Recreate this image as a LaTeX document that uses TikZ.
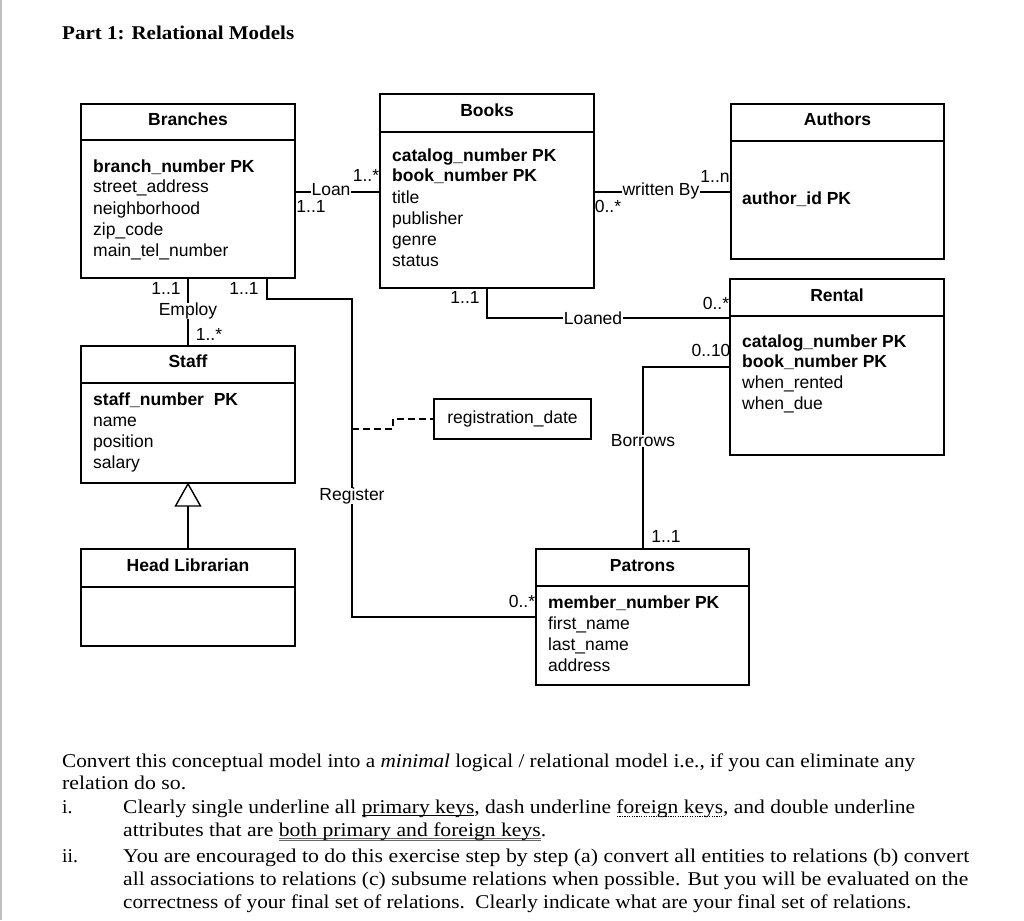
\documentclass[tikz,border=0pt]{standalone}
\usepackage{fontspec}
\setmainfont{Liberation Serif}
\newfontfamily\arialf{Liberation Sans}
\usepackage{graphicx}
\newcommand\fitline[2]{\resizebox{#1}{\height}{#2}}
\newcommand\sul[1]{\setbox0\hbox{#1}\rlap{\raisebox{-3pt}{\rule{\wd0}{0.8pt}}}\box0}
\newcommand\dul[1]{\setbox0\hbox{#1}\rlap{\raisebox{-3.5pt}{\hbox to \wd0{\leaders\hbox to 2.2pt{\hss\rule{1.1pt}{1pt}\hss}\hfill}}}\box0}
\newcommand\wul[1]{\setbox0\hbox{#1}\rlap{\raisebox{-2.6pt}{\color{black!60}\rule{\wd0}{0.6pt}}}\rlap{\raisebox{-4.6pt}{\color{black!60}\rule{\wd0}{0.6pt}}}\box0}
\begin{document}
\begin{tikzpicture}[x=1pt,y=-1pt,
  box/.style={draw, line width=1.7pt, inner sep=0pt},
  divl/.style={line width=1.7pt},
  conn/.style={line width=1.4pt},
  lbl/.style={font=\arialf\fontsize{17.5}{21}\selectfont, inner sep=0pt},
  hdr/.style={font=\arialf\bfseries\fontsize{17.5}{21}\selectfont, anchor=base, inner sep=0pt},
  attr/.style={lbl, anchor=base west},
  attrb/.style={attr, font=\arialf\bfseries\fontsize{17.5}{21}\selectfont},
  onl/.style={lbl, fill=white, inner xsep=1pt, inner ysep=0pt},
  tx/.style={font=\fontsize{19.5}{23}\selectfont, anchor=base west, inner sep=0pt}]
\useasboundingbox (0,0) rectangle (1024,920);
\fill[white] (0,0) rectangle (1024,920);
\fill[black!25] (0,0) rectangle (2,920);

% title
\node[tx, font=\bfseries\fontsize{19.5}{23}\selectfont] (title) at (62,40) {\fitline{232pt}{Part 1: Relational Models}};

% ---- entities ----
% Branches
\node[box, minimum width=214pt, minimum height=174pt] (branches) at (188,191) {};
\draw[divl] (81,140) -- (295,140);
\node[hdr] (branchesT) at (188,126) {Branches};
\node[attrb] (br1) at (93,172) {branch\_number PK};
\foreach \t [count=\i] in {street\_address, neighborhood, zip\_code, main\_tel\_number}
  \node[attr] (br\i x) at (93,172+21*\i) {\t};

% Books
\node[box, minimum width=214pt, minimum height=194pt] (books) at (487,191) {};
\draw[divl] (380,132) -- (594,132);
\node[hdr] (booksT) at (487,117) {Books};
\node[attrb] (bk1) at (392,161) {catalog\_number PK};
\node[attrb] (bk2) at (392,182) {book\_number PK};
\foreach \t [count=\i] in {title, publisher, genre, status}
  \node[attr] (bk\i x) at (392,182+21*\i) {\t};

% Authors
\node[box, minimum width=213pt, minimum height=155pt] (authors) at (837.5,181.5) {};
\draw[divl] (731,141) -- (944,141);
\node[hdr] (authorsT) at (837.5,126) {Authors};
\node[attrb] (au1) at (742,204) {author\_id PK};

% Rental
\node[box, minimum width=214pt, minimum height=176pt] (rental) at (837,367) {};
\draw[divl] (730,316) -- (944,316);
\node[hdr] (rentalT) at (837,301) {Rental};
\node[attrb] (re1) at (742,347) {catalog\_number PK};
\node[attrb] (re2) at (742,367) {book\_number PK};
\node[attr] (re3) at (742,388) {when\_rented};
\node[attr] (re4) at (742,409) {when\_due};

% Staff
\node[box, minimum width=214pt, minimum height=137pt] (staff) at (188,414.5) {};
\draw[divl] (81,383) -- (295,383);
\node[hdr] (staffT) at (188,367) {Staff};
\node[attrb] (st1) at (93,405) {staff\_number\ \ PK};
\foreach \t [count=\i] in {name, position, salary}
  \node[attr] (st\i x) at (93,405+21*\i) {\t};

% Head Librarian
\node[box, minimum width=214pt, minimum height=97pt] (head) at (188,597.5) {};
\draw[divl] (81,587) -- (295,587);
\node[hdr] (headT) at (188,571) {Head Librarian};

% Patrons
\node[box, minimum width=213pt, minimum height=136pt] (patrons) at (642.5,617) {};
\draw[divl] (536,586) -- (749,586);
\node[hdr] (patronsT) at (642.5,571) {Patrons};
\node[attrb] (pa1) at (548,608) {member\_number PK};
\node[attr] (pa2) at (548,629) {first\_name};
\node[attr] (pa3) at (548,650) {last\_name};
\node[attr] (pa4) at (548,671) {address};

% registration_date
\node[box, lbl, draw, line width=1.7pt, minimum width=157pt, minimum height=40pt] (regdate) at (512.5,419) {registration\_date};

% ---- connectors ----
% Loan
\draw[conn] (branches.east |- 0,192) -- (books.west |- 0,192);
\node[onl] (loanL) at (331,190) {Loan};
\node[lbl] (loanM1) at (366,175) {1..*};
\node[lbl] (loanM2) at (311,206) {1..1};

% written By
\draw[conn] (books.east |- 0,192) -- (authors.west |- 0,192);
\node[onl] (wbL) at (661,191) {written By};
\node[lbl] (wbM1) at (608,206) {0..*};
\node[lbl] (wbM2) at (715,176) {1..n};

% Employ
\draw[conn] (branches.south -| 188,0) -- (staff.north);
\node[onl] (empL) at (188,311) {Employ};
\node[lbl] (empM1) at (166,288) {1..1};
\node[lbl] (empM2) at (209,334) {1..*};

% Register
\draw[conn] (branches.south -| 267,0) -- (267,299) -- (352,299) -- (352,617) -- (patrons.west |- 0,617);
\node[onl] (regL) at (352,496) {Register};
\node[lbl] (regM1) at (244,288) {1..1};
\node[lbl] (regM2) at (522,601) {0..*};
\coordinate (regj) at (352,429);
\draw[conn, dash pattern=on 7pt off 4pt] (regj) -- (393,429) -- (393,419) -- (regdate.west |- 0,419);

% Loaned
\draw[conn] (books.south -| 487,0) -- (487,318) -- (rental.west |- 0,318);
\node[onl] (lnL) at (593,318) {Loaned};
\node[lbl] (lnM1) at (465,297) {1..1};
\node[lbl] (lnM2) at (716,303) {0..*};

% Borrows
\draw[conn] (rental.west |- 0,367) -- (643,367) -- (patrons.north -| 643,0);
\node[onl] (boL) at (643,441) {Borrows};
\node[lbl] (boM1) at (711,350) {0..10};
\node[lbl] (boM2) at (666,536) {1..1};

% Inheritance
\coordinate (tribase) at (188,506);
\draw[conn] (head.north) -- (tribase);
\draw[conn, fill=white] (staff.south) -- (175.5,506) -- (200.5,506) -- cycle;

% ---- bottom text ----
\node[tx] (p1) at (62,767) {\fitline{853pt}{Convert this conceptual model into a \textit{minimal} logical / relational model i.e., if you can eliminate any}};
\node[tx] (p2) at (62,789) {\fitline{124pt}{relation do so.}};
\node[tx] (i1) at (62,813) {i.};
\node[tx] (p3) at (123,813) {\fitline{792pt}{Clearly single underline all \sul{primary keys}, dash underline \dul{foreign keys}, and double underline}};
\node[tx] (p4) at (123,836) {\fitline{423pt}{attributes that are \wul{both primary and foreign keys}.}};
\node[tx] (i2) at (62,862) {ii.};
\node[tx] (p5) at (123,862) {\fitline{846pt}{You are encouraged to do this exercise step by step (a) convert all entities to relations (b) convert}};
\node[tx] (p6) at (123,885) {\fitline{845pt}{all associations to relations (c) subsume relations when possible. But you will be evaluated on the}};
\node[tx] (p7) at (123,908) {\fitline{788pt}{correctness of your final set of relations.\ \ Clearly indicate what are your final set of relations.}};
\end{tikzpicture}
\end{document}
